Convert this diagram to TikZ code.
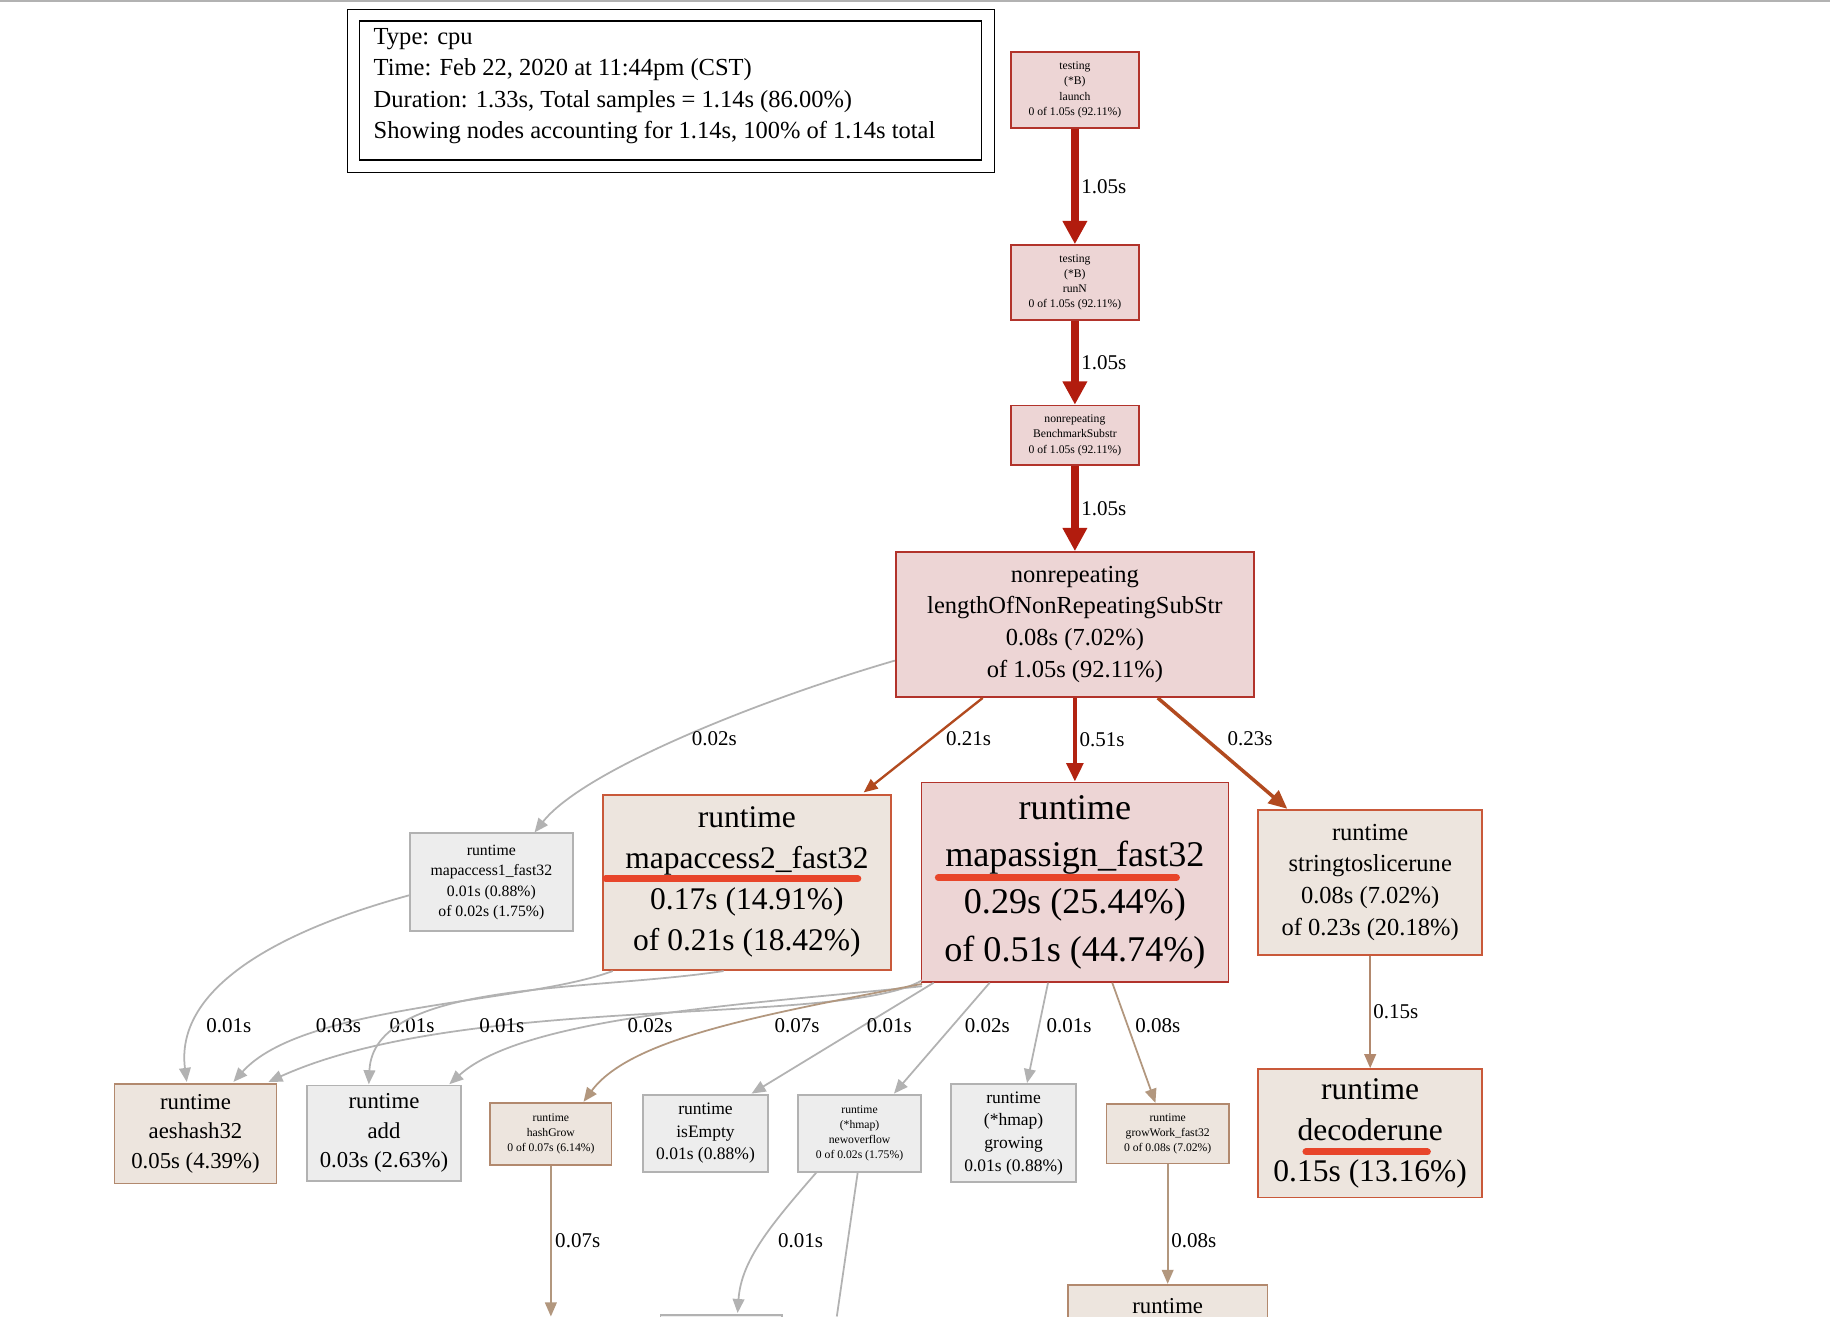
\documentclass[tikz,border=0pt]{standalone}
\usepackage{fontspec}
\setmainfont{Liberation Serif}
\usetikzlibrary{arrows.meta}
\definecolor{redfill}{HTML}{EDD5D5}
\definecolor{redline}{HTML}{B2332B}
\definecolor{begfill}{HTML}{EDE5DE}
\definecolor{begline}{HTML}{B2896E}
\definecolor{org}{HTML}{C9593A}
\definecolor{gryfill}{HTML}{EDEDED}
\definecolor{gryline}{HTML}{B2B2B2}
\definecolor{darkred}{HTML}{B21C0E}
\definecolor{brn}{HTML}{B24A1F}
\definecolor{tan}{HTML}{B2977E}
\definecolor{ul}{HTML}{E8452A}
\newcommand{\fs}[1]{\fontsize{#1}{\fpeval{#1*1.3}}\selectfont}
\tikzset{
 box/.style={draw, line width=1.5pt, align=center, inner sep=0pt, minimum width=#1},
 rbox/.style={box=#1, fill=redfill, draw=redline},
 obox/.style={box=#1, fill=begfill, draw=org},
 bbox/.style={box=#1, fill=begfill, draw=begline},
 gbox/.style={box=#1, fill=gryfill, draw=gryline},
 e/.style={-{Triangle[length=12pt,width=10pt]}, line width=1.5pt},
 lab/.style={font=\fs{18}, inner sep=0pt}
}
\begin{document}
\begin{tikzpicture}[x=1pt,y=-1pt]
\useasboundingbox (0,0) rectangle (1568,1128);
\fill[white] (0,0) rectangle (1568,1128);
\draw[gray!60, line width=1.5pt] (0,1) -- (1568,1);
% legend
\draw[line width=1.2pt] (298,8) rectangle (852,148);
\draw[line width=1.2pt] (308,18) rectangle (841,137);
\node[anchor=north west, align=left, inner sep=0pt, font=\fontsize{21}{27}\selectfont] (leg) at (320,24)
 {Type: cpu\\Time: Feb 22, 2020 at 11:44pm (CST)\\Duration: 1.33s, Total samples = 1.14s (86.00\%)\\Showing nodes accounting for 1.14s, 100\% of 1.14s total};
% nodes
\node[rbox=110pt, minimum height=65pt, font=\fs{10}] (launch) at (921,77) {testing\\(*B)\\launch\\0 of 1.05s (92.11\%)};
\node[rbox=110pt, minimum height=64pt, font=\fs{10}] (runN) at (921,242) {testing\\(*B)\\runN\\0 of 1.05s (92.11\%)};
\node[rbox=110pt, minimum height=51pt, font=\fs{10}] (bench) at (921,373) {nonrepeating\\BenchmarkSubstr\\0 of 1.05s (92.11\%)};
\node[rbox=307pt, minimum height=124pt, font=\fs{21}] (len) at (921,535) {nonrepeating\\lengthOfNonRepeatingSubStr\\0.08s (7.02\%)\\of 1.05s (92.11\%)};
\node[gbox=140pt, minimum height=84pt, font=\fs{13.5}] (ma1) at (421,756) {runtime\\mapaccess1\_fast32\\0.01s (0.88\%)\\of 0.02s (1.75\%)};
\node[obox=247pt, minimum height=150pt, font=\fs{27}] (ma2) at (640,756) {runtime\\mapaccess2\_fast32\\0.17s (14.91\%)\\of 0.21s (18.42\%)};
\node[rbox=263pt, minimum height=171pt, font=\fs{31}] (mas) at (921,756) {runtime\\mapassign\_fast32\\0.29s (25.44\%)\\of 0.51s (44.74\%)};
\node[obox=192pt, minimum height=124pt, font=\fs{21}] (str) at (1174,756) {runtime\\stringtoslicerune\\0.08s (7.02\%)\\of 0.23s (20.18\%)};
\node[obox=192pt, minimum height=110pt, font=\fs{27}] (dec) at (1174,971) {runtime\\decoderune\\0.15s (13.16\%)};
\node[bbox=139pt, minimum height=85pt, font=\fs{19.5}] (aes) at (167.5,971.5) {runtime\\aeshash32\\0.05s (4.39\%)};
\node[gbox=132pt, minimum height=82pt, font=\fs{19.5}] (add) at (329,971) {runtime\\add\\0.03s (2.63\%)};
\node[bbox=104pt, minimum height=53pt, font=\fs{10}] (hg) at (472,971.5) {runtime\\hashGrow\\0 of 0.07s (6.14\%)};
\node[gbox=107pt, minimum height=66pt, font=\fs{15}] (ie) at (604.5,971) {runtime\\isEmpty\\0.01s (0.88\%)};
\node[gbox=105pt, minimum height=66pt, font=\fs{10}] (no) at (736.5,971) {runtime\\(*hmap)\\newoverflow\\0 of 0.02s (1.75\%)};
\node[gbox=107pt, minimum height=84pt, font=\fs{15}] (gr) at (868.5,971) {runtime\\(*hmap)\\growing\\0.01s (0.88\%)};
\node[bbox=105pt, minimum height=51pt, font=\fs{10}] (gw) at (1000.5,971.5) {runtime\\growWork\_fast32\\0 of 0.08s (7.02\%)};
\node[bbox=171pt, minimum height=60pt, anchor=north] (rb) at (1000.5,1100) {};
\node[font=\fs{19.5}, inner sep=0pt] (rbt) at (1000.5,1119) {runtime};
\node[gbox=104pt, minimum height=40pt, anchor=north] (lb) at (618,1126) {};
\coordinate (hgend) at (472,1128);
\coordinate (noend) at (717,1128);
% underlines
\draw[ul, line width=6pt, line cap=round] (519,753) -- (735,753);
\draw[ul, line width=6pt, line cap=round] (804,752) -- (1008,752);
\draw[ul, line width=6pt, line cap=round] (1119,987) -- (1223,987);
% edges
\draw[e, darkred, line width=7pt, -{Triangle[length=20pt,width=20pt]}] (launch) -- (runN) node[lab, midway, right=2pt, black]{1.05s};
\draw[e, darkred, line width=7pt, -{Triangle[length=20pt,width=20pt]}] (runN) -- (bench) node[lab, midway, right=2pt, black]{1.05s};
\draw[e, darkred, line width=7pt, -{Triangle[length=20pt,width=20pt]}] (bench) -- (len) node[lab, midway, right=2pt, black]{1.05s};
\draw[e, gryline] (len.west |- 0,566) .. controls (650,600) and (500,660) .. (ma1.north -| 458,0);
\node[lab] at (612,633) {0.02s};
\draw[e, brn, line width=2pt] (842,598) -- (740,679);
\node[lab] at (830,633) {0.21s};
\draw[e, darkred!85!brn, line width=4pt, -{Triangle[length=16pt,width=14pt]}] (len.south) -- (mas.north) node[lab, midway, right=2pt, black]{0.51s};
\draw[e, brn, line width=3pt, -{Triangle[length=16pt,width=14pt]}] (992,598) -- (1103,693);
\node[lab] at (1071,633) {0.23s};
\draw[e, begline, line width=1.5pt] (str.south) -- (dec.north) node[lab, midway, right=2pt, black]{0.15s};
% lower gray edges
\draw[e, gryline] (351,767) .. controls (230,800) and (150,850) .. (160,927);
\node[lab] at (196,879) {0.01s};
\draw[e, gryline] (525,832) .. controls (450,860) and (260,860) .. (200,927);
\node[lab] at (290,879) {0.03s};
\draw[e, gryline] (790,840) .. controls (720,880) and (400,850) .. (230,927);
\node[lab] at (353,879) {0.01s};
\draw[e, gryline] (620,832) .. controls (500,850) and (320,840) .. (316,929);
\node[lab] at (430,879) {0.01s};
\draw[e, gryline] (790,845) .. controls (650,860) and (450,870) .. (385,929);
\node[lab] at (557,879) {0.02s};
\draw[e, tan] (790,843) .. controls (650,870) and (540,890) .. (500,944);
\node[lab] at (683,879) {0.07s};
\draw[e, gryline] (800,842) -- (644,937);
\node[lab] at (762,879) {0.01s};
\draw[e, gryline] (848,842) -- (766,937);
\node[lab] at (846,879) {0.02s};
\draw[e, gryline] (898,842) -- (880,928);
\node[lab] at (916,879) {0.01s};
\draw[e, tan] (953,842) -- (990,945);
\node[lab] at (992,879) {0.08s};
\draw[e, tan] (hg.south) -- (hgend);
\node[lab] at (495,1063) {0.07s};
\draw[e, gryline] (700,1004) .. controls (660,1050) and (635,1080) .. (632,1125);
\node[lab] at (686,1063) {0.01s};
\draw[gryline, line width=1.5pt] (735,1004) -- (noend);
\draw[e, tan] (gw.south) -- (rb.north);
\node[lab] at (1023,1063) {0.08s};
\end{tikzpicture}
\end{document}
